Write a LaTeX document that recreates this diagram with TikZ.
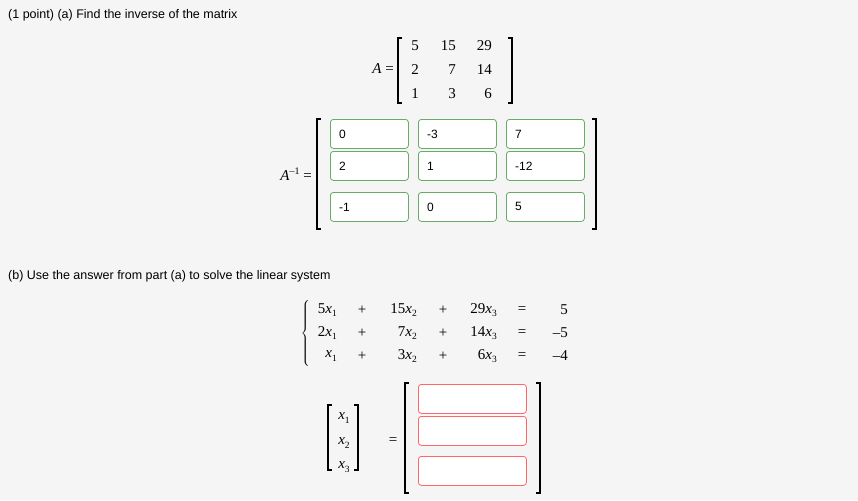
\documentclass[tikz,border=0pt]{standalone}
\usepackage{fontspec}
\setmainfont{Liberation Sans}
\newfontfamily\serif{Liberation Serif}
\newcommand\xv[1]{{\itshape x}\raisebox{-3.5pt}{\fontsize{9.5}{9.5}\selectfont #1}}
\newcommand\mminus{\raisebox{0pt}{\textendash}}
\begin{document}
\begin{tikzpicture}[x=1pt,y=-1pt,
  txt/.style={font=\fontsize{12.5}{14}\selectfont, inner sep=0},
  mth/.style={font=\fontsize{15}{17}\selectfont\serif, inner sep=0},
  gbox/.style={draw=green!45!black!60, line width=0.8pt, rounded corners=3pt, fill=white, minimum width=78pt, minimum height=29pt, anchor=north west},
  rbox/.style={draw=red!60, line width=0.8pt, rounded corners=3pt, fill=white, minimum width=108pt, minimum height=29pt, anchor=north west},
  entry/.style={font=\fontsize{12}{14}\selectfont, anchor=west, inner sep=0},
  brk/.style={line width=1.1pt}]
\fill[gray!8] (0,0) rectangle (858,500);
\useasboundingbox (0,0) rectangle (858,500);
\node[txt,anchor=west] (t1) at (8,15) {(1 point) (a) Find the inverse of the matrix};
% matrix A
\node[mth,anchor=east] (aeq) at (394,69) {\itshape A\upshape\ =};
\draw[brk] (402,38) -- (398,38) -- (398,103) -- (402,103);
\draw[brk] (508,38) -- (512,38) -- (512,103) -- (508,103);
\node[mth,anchor=east] (a11) at (419,46) {5};
\node[mth,anchor=east] (a12) at (456,46) {15};
\node[mth,anchor=east] (a13) at (492,46) {29};
\node[mth,anchor=east] (a21) at (419,70) {2};
\node[mth,anchor=east] (a22) at (456,70) {7};
\node[mth,anchor=east] (a23) at (492,70) {14};
\node[mth,anchor=east] (a31) at (419,94) {1};
\node[mth,anchor=east] (a32) at (456,94) {3};
\node[mth,anchor=east] (a33) at (492,94) {6};
% inverse
\node[mth,anchor=east] (ainv) at (312,174) {\itshape A\upshape\raisebox{6pt}{\fontsize{10}{10}\selectfont \mminus1} =};
\draw[brk] (321,119) -- (317,119) -- (317,229) -- (321,229);
\draw[brk] (592,119) -- (596,119) -- (596,229) -- (592,229);
\foreach \v/\i/\j/\xx/\y in {0/1/1/330/119, -3/1/2/418/119, 7/1/3/506/119,
  2/2/1/330/151, 1/2/2/418/151, -12/2/3/506/151,
  -1/3/1/330/192, 0/3/2/418/192, 5/3/3/506/192}{
    \node[gbox] (g\i\j) at (\xx,\y) {};
    \node[entry] (e\i\j) at ([xshift=9pt]g\i\j.west) {\v};
  }
\node[txt,anchor=west] (t2) at (8,276) {(b) Use the answer from part (a) to solve the linear system};
% system
\node[inner sep=0] (brace) at (306,333) {$\left\{\vphantom{\rule{0pt}{37pt}}\right.$};
\foreach \a/\b/\c/\d/\y in {5\xv{1}/15\xv{2}/29\xv{3}/5/310, 2\xv{1}/7\xv{2}/14\xv{3}/\mminus5/333, \xv{1}/3\xv{2}/6\xv{3}/\mminus4/356}{
  \node[mth,anchor=east] at (337,\y) {\a};
  \node[mth] at (362,\y) {+};
  \node[mth,anchor=east] at (417,\y) {\b};
  \node[mth] at (443,\y) {+};
  \node[mth,anchor=east] at (497,\y) {\c};
  \node[mth] at (522,\y) {=};
  \node[mth,anchor=east] at (568,\y) {\d};
}
% vector
\draw[brk] (332,405) -- (328,405) -- (328,470) -- (332,470);
\draw[brk] (354,405) -- (358,405) -- (358,470) -- (354,470);
\node[mth] (x1) at (344,418) {\xv{1}};
\node[mth] (x2) at (344,443) {\xv{2}};
\node[mth] (x3) at (344,467) {\xv{3}};
\node[mth] (eq) at (393,441) {=};
\draw[brk] (409,383) -- (405,383) -- (405,493) -- (409,493);
\draw[brk] (536,383) -- (540,383) -- (540,493) -- (536,493);
\node[rbox] (r1) at (418,384) {};
\node[rbox] (r2) at (418,416) {};
\node[rbox] (r3) at (418,456) {};
\end{tikzpicture}
\end{document}
